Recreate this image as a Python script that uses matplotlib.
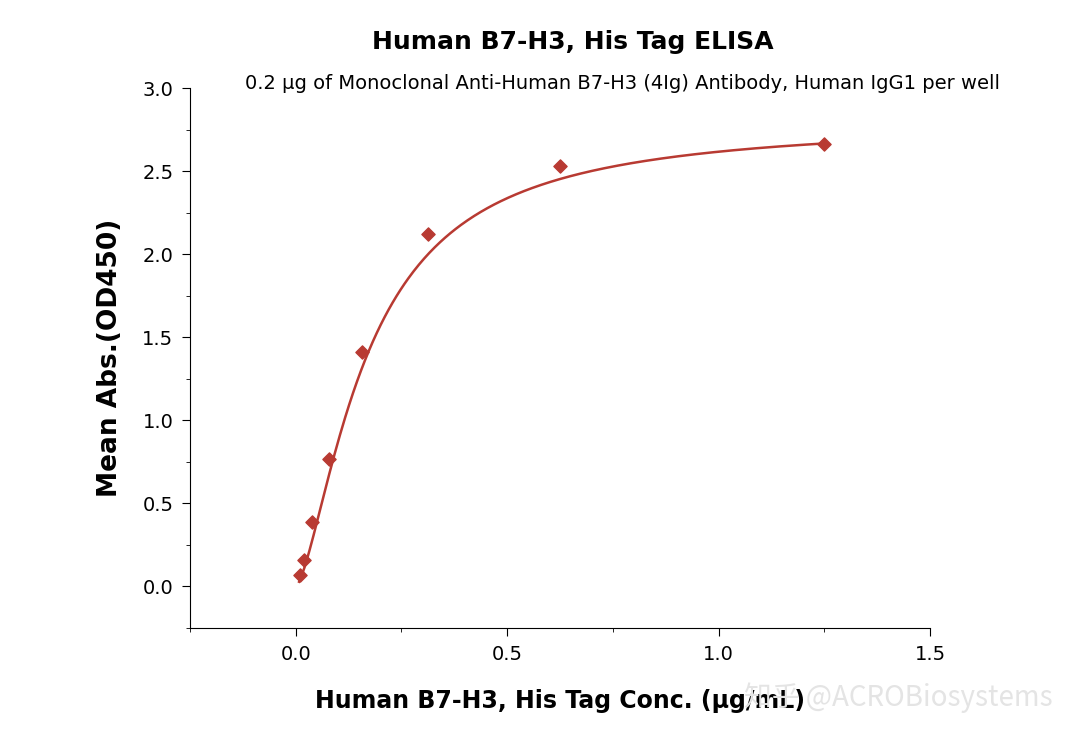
import numpy as np
import matplotlib
matplotlib.use("Agg")
import matplotlib.pyplot as plt

conc = [0.0098, 0.0195, 0.039, 0.078, 0.156, 0.3125, 0.625, 1.25]
od450 = [0.07, 0.16, 0.39, 0.77, 1.41, 2.12, 2.53, 2.66]
fit_bottom, fit_top, fit_ec50, fit_hill = 0.0, 2.8, 0.17, 1.5

fig = plt.figure(figsize=(10.8, 7.53), dpi=100)
ax = fig.add_axes([190/1080, 1-628/753, 740/1080, 540/753])
color = "#B83A32"
xs = np.linspace(0.008, 1.25, 400)
ys = fit_bottom + (fit_top - fit_bottom) / (1 + (fit_ec50 / xs) ** fit_hill)
ax.plot(xs, ys, color=color, lw=1.8)
ax.scatter(conc, od450, marker="D", s=45, color=color, zorder=3)

ax.set_xlim(-0.24, 1.5)
ax.set_ylim(-0.25, 3.0)
ax.set_xticks([0.0, 0.5, 1.0, 1.5])
ax.set_yticks([0.0, 0.5, 1.0, 1.5, 2.0, 2.5, 3.0])
ax.set_xticks(np.arange(-0.25, 1.51, 0.25), minor=True)
ax.set_yticks(np.arange(-0.25, 3.01, 0.25), minor=True)
for s in ["top", "right"]:
    ax.spines[s].set_visible(False)
ax.tick_params(which="major", direction="out", length=6, labelsize=14, pad=6)
ax.tick_params(which="minor", direction="out", length=3)
ax.set_xlabel("Human B7-H3, His Tag Conc. (μg/mL)", fontsize=17, fontweight="bold", labelpad=18)
ax.set_ylabel("Mean Abs.(OD450)", fontsize=19, fontweight="bold", labelpad=14)
fig.text(0.53, 0.935, "Human B7-H3, His Tag ELISA", ha="center", fontsize=18, fontweight="bold")
fig.text(0.576, 0.882, "0.2 μg of Monoclonal Anti-Human B7-H3 (4Ig) Antibody, Human IgG1 per well",
         ha="center", fontsize=14)
fig.text(0.975, 0.063, "知乎 @ACROBiosystems", ha="right", fontsize=20, color="#e4e4e4",
         family=["Noto Sans CJK SC", "DejaVu Sans"])
fig.savefig("out.png", dpi=100)
